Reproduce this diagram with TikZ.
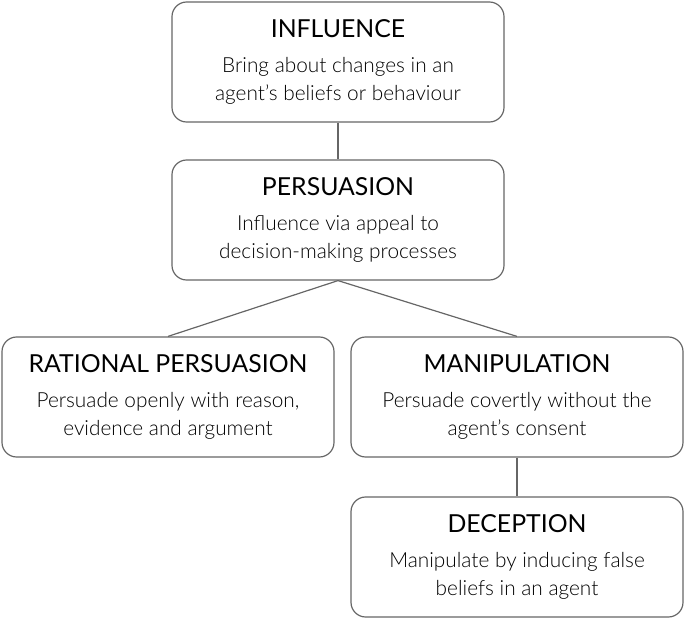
\documentclass[tikz,border=0pt]{standalone}
\usepackage{fontspec}
\setmainfont{Lato}[UprightFont=* Light]
\newfontfamily\headfont{Lato}
\usetikzlibrary{positioning}
\newcommand{\boxhead}[1]{{\headfont\fontsize{18.6}{24}\selectfont #1}\\[5pt]}
\begin{document}
\begin{tikzpicture}
[x=0.75pt, y=-0.75pt, line width=0.9pt,
box/.style={rectangle, draw=black!60, fill=white, rounded corners=11pt, minimum width=249pt, minimum height=90pt, inner sep=0pt, align=center, font=\fontsize{15.6}{21}\selectfont},
link/.style={draw=black!60, line width=0.9pt}]

\useasboundingbox (0,0) rectangle (685,620);

\node[box] (influence) at (338,62) {\boxhead{INFLUENCE}Bring about changes in an\\agent's beliefs or behaviour};
\node[box] (persuasion) at (338,220) {\boxhead{PERSUASION}Influence via appeal to\\decision-making processes};
\node[box] (rational) at (168,397) {\boxhead{RATIONAL PERSUASION}Persuade openly with reason,\\evidence and argument};
\node[box] (manipulation) at (517,397) {\boxhead{MANIPULATION}Persuade covertly without the\\agent's consent};
\node[box] (deception) at (517,557) {\boxhead{DECEPTION}Manipulate by inducing false\\beliefs in an agent};

\draw[link] (influence.south) -- (persuasion.north);
\draw[link] (persuasion.south) -- (rational.north);
\draw[link] (persuasion.south) -- (manipulation.north);
\draw[link] (manipulation.south) -- (deception.north);
\end{tikzpicture}
\end{document}
